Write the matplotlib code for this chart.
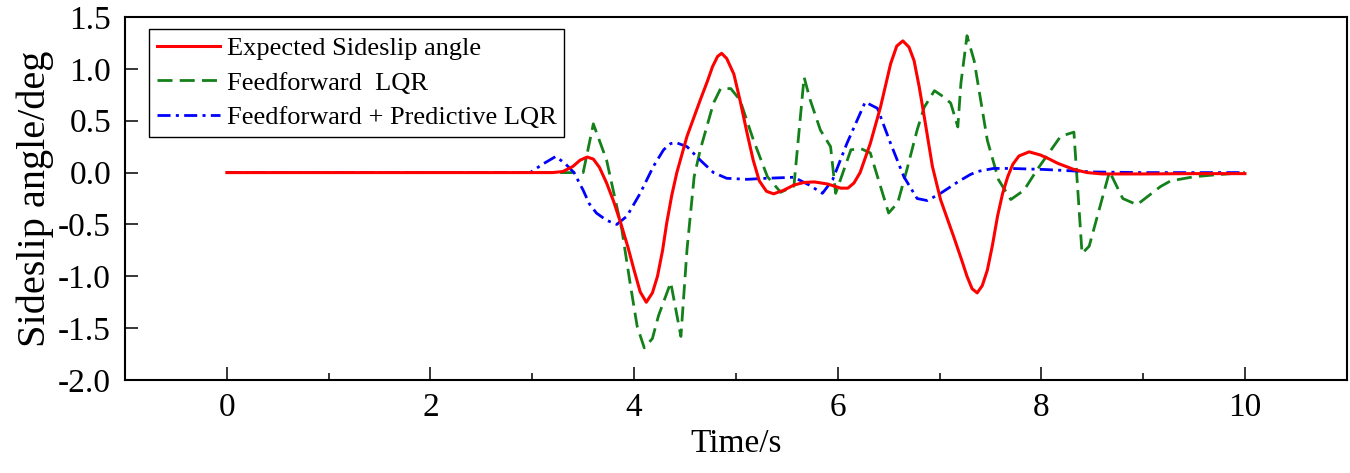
import matplotlib
matplotlib.use("Agg")
import matplotlib.pyplot as plt
from matplotlib.ticker import MultipleLocator

plt.rcParams['font.family'] = ['Liberation Serif', 'DejaVu Serif']

# Expected sideslip angle (red, solid)
t_expected = [0, 3.0, 3.2, 3.3, 3.4, 3.47, 3.54, 3.6, 3.66, 3.73, 3.80, 3.87, 3.94,
              4.0, 4.06, 4.12, 4.18, 4.23, 4.28, 4.32, 4.37, 4.42, 4.52, 4.65, 4.72,
              4.77, 4.82, 4.86, 4.91, 4.98, 5.04, 5.11, 5.17, 5.23, 5.30, 5.37, 5.47,
              5.57, 5.67, 5.77, 5.90, 6.03, 6.10, 6.16, 6.22, 6.32, 6.42, 6.52, 6.58,
              6.64, 6.70, 6.75, 6.80, 6.85, 6.93, 7.01, 7.14, 7.22, 7.27, 7.32, 7.37,
              7.42, 7.47, 7.52, 7.57, 7.62, 7.67, 7.72, 7.78, 7.88, 7.99, 8.08, 8.16,
              8.32, 8.45, 8.6, 9.0, 9.5, 10]
v_expected = [0, 0, 0, 0.01, 0.06, 0.12, 0.15, 0.13, 0.05, -0.10, -0.28, -0.49, -0.72,
              -0.94, -1.15, -1.25, -1.16, -1.0, -0.75, -0.49, -0.22, 0.0, 0.35, 0.70, 0.88,
              1.02, 1.12, 1.15, 1.10, 0.95, 0.70, 0.38, 0.12, -0.08, -0.18, -0.205, -0.17,
              -0.12, -0.095, -0.09, -0.11, -0.15, -0.15, -0.10, 0.0, 0.28, 0.63, 1.05, 1.22,
              1.27, 1.21, 1.08, 0.83, 0.54, 0.06, -0.26, -0.62, -0.85, -1.0, -1.12, -1.16,
              -1.09, -0.94, -0.70, -0.42, -0.20, -0.04, 0.08, 0.16, 0.20, 0.17, 0.13, 0.09,
              0.03, 0.0, -0.013, -0.013, -0.01, -0.01]

# Feedforward LQR (green, dashed)
t_ff = [0, 3.50, 3.60, 3.73, 3.88, 3.96, 4.03, 4.10, 4.18, 4.24, 4.36, 4.46, 4.52,
        4.59, 4.65, 4.78, 4.85, 4.95, 5.04, 5.17, 5.31, 5.44, 5.57, 5.67, 5.73, 5.83,
        5.93, 5.98, 6.13, 6.23, 6.32, 6.50, 6.59, 6.68, 6.78, 6.85, 6.95, 7.04, 7.11,
        7.18, 7.21, 7.27, 7.34, 7.47, 7.58, 7.70, 7.83, 7.96, 8.19, 8.32, 8.40, 8.47,
        8.67, 8.80, 8.94, 9.17, 9.27, 9.5, 9.73, 10]
v_ff = [0, 0, 0.47, 0.12, -0.55, -1.06, -1.48, -1.69, -1.60, -1.38, -1.06, -1.58, -0.74,
        -0.04, 0.22, 0.67, 0.81, 0.81, 0.70, 0.32, -0.04, -0.19, -0.13, 0.92, 0.70, 0.41,
        0.25, -0.20, 0.22, 0.23, 0.19, -0.39, -0.29, 0.03, 0.41, 0.63, 0.79, 0.73, 0.67,
        0.44, 0.86, 1.32, 1.08, 0.31, -0.07, -0.26, -0.17, 0.03, 0.35, 0.39, -0.78, -0.71,
        0.01, -0.25, -0.31, -0.135, -0.08, -0.04, -0.02, 0]

# Feedforward + Predictive LQR (blue, dash-dot)
t_pred = [0, 2.98, 3.1, 3.23, 3.32, 3.41, 3.50, 3.56, 3.63, 3.73, 3.83, 3.93, 4.06,
          4.19, 4.29, 4.36, 4.41, 4.52, 4.65, 4.78, 4.91, 5.11, 5.3, 5.57, 5.72, 5.85,
          5.95, 6.09, 6.27, 6.39, 6.52, 6.65, 6.78, 6.88, 7.01, 7.18, 7.30, 7.37, 7.53,
          7.70, 8.03, 8.52, 9.0, 10]
v_pred = [0, 0, 0.08, 0.155, 0.09, 0.0, -0.17, -0.30, -0.39, -0.46, -0.50, -0.42, -0.20,
          0.06, 0.22, 0.28, 0.29, 0.25, 0.12, 0.0, -0.055, -0.065, -0.055, -0.045, -0.12, -0.20,
          -0.07, 0.28, 0.68, 0.62, 0.28, -0.04, -0.25, -0.27, -0.2, -0.09, -0.02, 0.01, 0.04,
          0.04, 0.03, 0.006, 0, 0]

labels = ['Expected Sideslip angle', 'Feedforward  LQR', 'Feedforward + Predictive LQR']
x_ticks = [0, 2, 4, 6, 8, 10]
y_ticks = [-2.0, -1.5, -1.0, -0.5, 0.0, 0.5, 1.0, 1.5]

fig = plt.figure(figsize=(13.5, 4.73), dpi=100)
ax = fig.add_axes([0.0926, 0.1966, 0.905, 0.7674])

ax.plot(t_expected, v_expected, color='#ff0000', lw=2.2, label=labels[0], zorder=3)
ax.plot(t_ff, v_ff, color='#13801a', lw=2.0, linestyle=(0, (5.4, 2.6)), label=labels[1], zorder=2)
ax.plot(t_pred, v_pred, color='#0000ff', lw=2.0, linestyle=(0, (4.7, 1.9, 1.1, 1.9)),
        label=labels[2], zorder=2)

ax.set_xlim(-1, 11)
ax.set_ylim(-2.0, 1.5)
ax.set_xticks(x_ticks)
ax.set_yticks(y_ticks)
ax.set_yticklabels([f'{v:.1f}' for v in y_ticks])
ax.xaxis.set_minor_locator(MultipleLocator(1))

ax.tick_params(axis='both', which='major', direction='in', length=9.4, width=1.1,
               labelsize=24, top=False, right=False)
ax.tick_params(axis='x', which='minor', direction='in', length=4.8, width=1.1, top=False)
ax.tick_params(axis='x', which='major', pad=9)
ax.tick_params(axis='y', which='major', pad=10)
for s in ax.spines.values():
    s.set_linewidth(1.5)

ax.set_xlabel('Time/s', fontsize=24, labelpad=4)
ax.set_ylabel('Sideslip angle/deg', fontsize=29, labelpad=3)

leg = ax.legend(loc='upper left', bbox_to_anchor=(0.0196, 0.968), borderaxespad=0,
                fontsize=19, frameon=True, fancybox=False, framealpha=1,
                edgecolor='black', handlelength=2.4, handletextpad=0.25,
                labelspacing=0.42, borderpad=0.3)
leg.get_frame().set_linewidth(1.0)

fig.savefig('out.png', dpi=100)
